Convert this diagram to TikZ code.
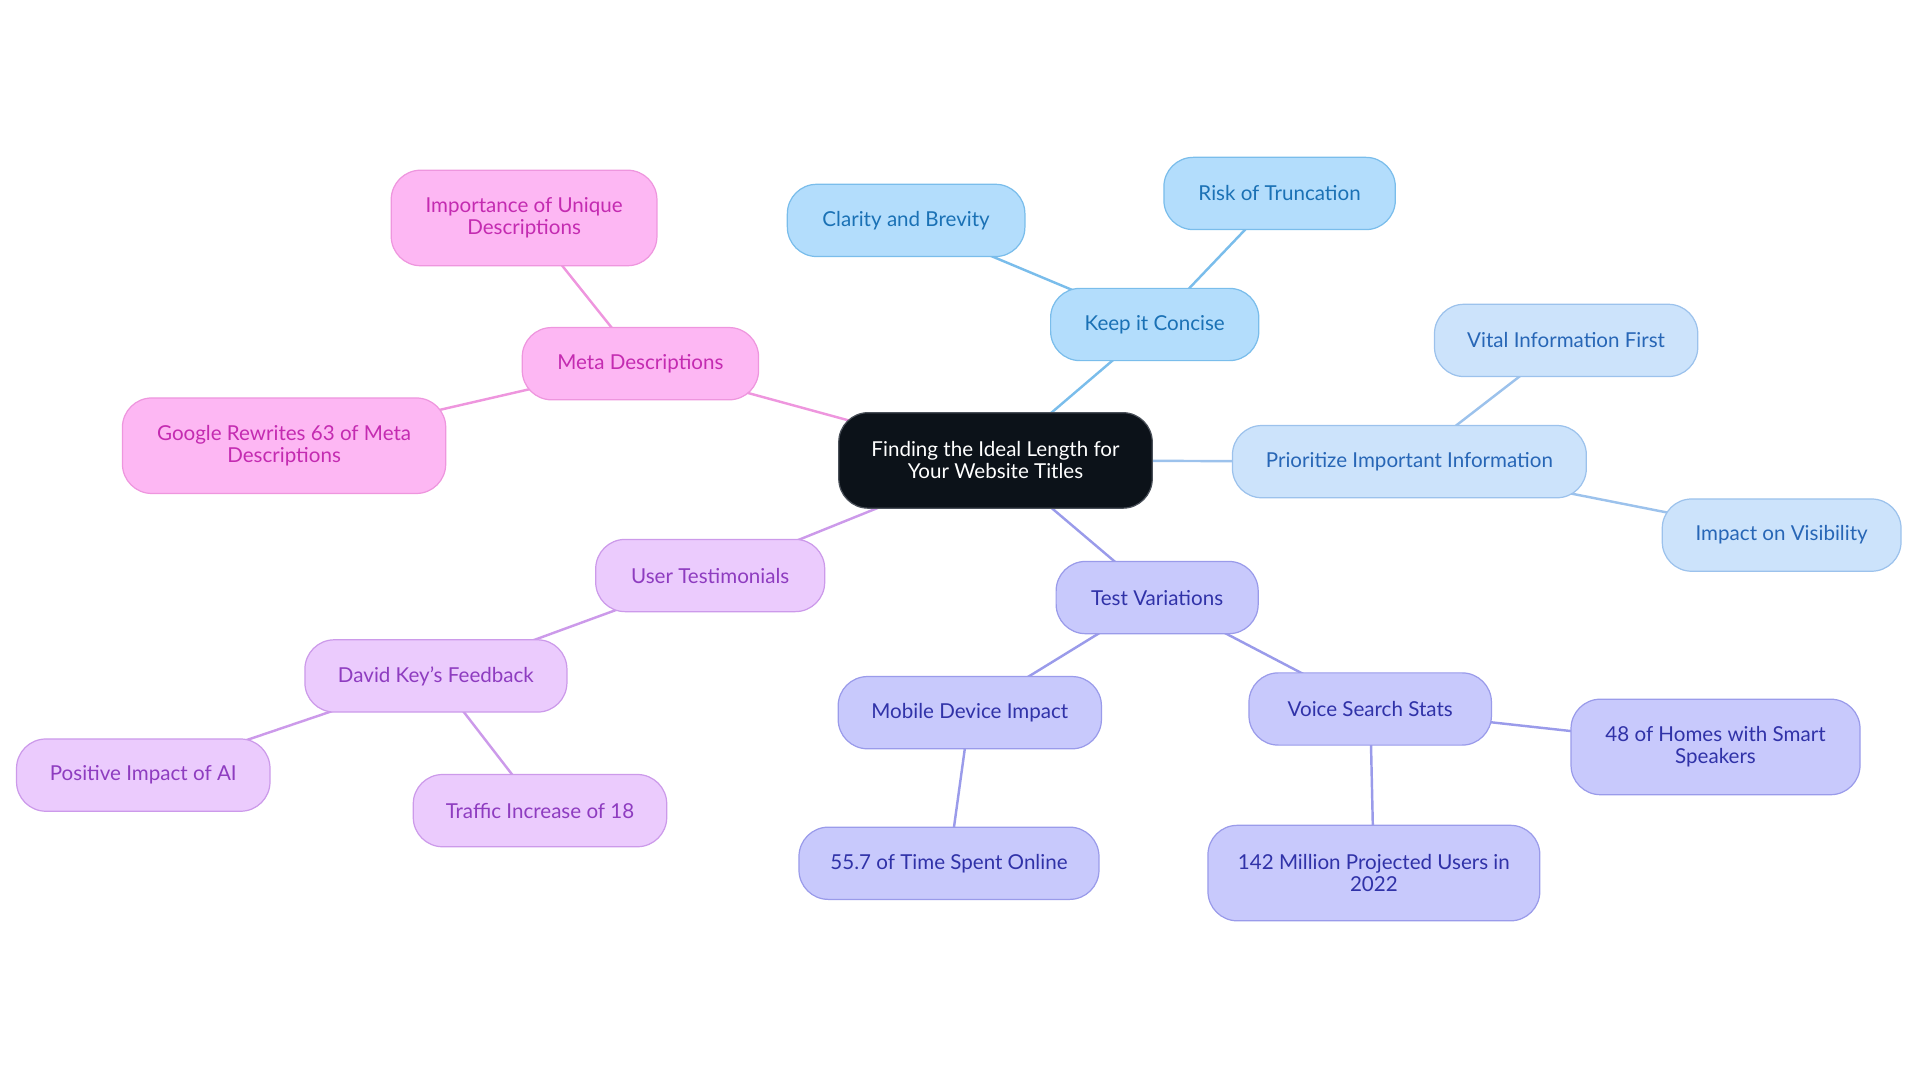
\documentclass[tikz,border=0pt]{standalone}
\usepackage{fontspec}
\setmainfont{Lato}
\usetikzlibrary{backgrounds}

\definecolor{rootfill}{HTML}{0C1219}
\definecolor{rootline}{HTML}{4A5059}
\definecolor{skyfill}{HTML}{B3DDFC}
\definecolor{skyline}{HTML}{7ABDEB}
\definecolor{skytext}{HTML}{1A71B5}
\definecolor{icefill}{HTML}{CCE3FB}
\definecolor{iceline}{HTML}{9CC2EC}
\definecolor{icetext}{HTML}{2766B6}
\definecolor{indfill}{HTML}{C8C9FC}
\definecolor{indline}{HTML}{9A9BEA}
\definecolor{indtext}{HTML}{3032A8}
\definecolor{vioffill}{HTML}{EBCBFD}
\definecolor{vioine}{HTML}{CC9AEA}
\definecolor{viotext}{HTML}{8E3CC0}
\definecolor{pinkfill}{HTML}{FDB7F3}
\definecolor{pinkline}{HTML}{EE96DE}
\definecolor{pinktext}{HTML}{C42BB1}

\begin{document}
\begin{tikzpicture}[x=1pt,y=-1pt,
  box/.style={rectangle, rounded corners=24pt, draw, line width=1pt,
    minimum height=59pt, inner xsep=10pt, align=center,
    font=\fontsize{16.8}{18}\selectfont},
  tall/.style={minimum height=78pt},
  link/.style={line width=2pt}]

\useasboundingbox (0,0) rectangle (1568,884);

% root of the map
\node[box, fill=rootfill, draw=rootline, text=white, minimum width=256pt, tall]
  (root) at (813,376) {Finding the Ideal Length for\\Your Website Titles};

% keep it concise branch
\node[box, fill=skyfill, draw=skyline, text=skytext, minimum width=170pt] (concise) at (943,265) {Keep it Concise};
\foreach \n/\x/\y/\w/\t in {clarity/740/180/194/{Clarity and Brevity},
                            trunc/1045/158/189/{Risk of Truncation}} {
    \node[box, fill=skyfill, draw=skyline, text=skytext, minimum width=\w pt] (\n) at (\x,\y) {\t};
}

% prioritize branch
\node[box, fill=icefill, draw=iceline, text=icetext, minimum width=289pt] (prio) at (1151,377) {Prioritize Important Information};
\foreach \n/\x/\y/\w/\t in {vital/1279/278/215/{Vital Information First},
                            visib/1455/437/195/{Impact on Visibility}} {
    \node[box, fill=icefill, draw=iceline, text=icetext, minimum width=\w pt] (\n) at (\x,\y) {\t};
}

% test variations branch
\foreach \n/\x/\y/\w/\t in {test/945/488/165/{Test Variations},
                            mobile/792/582/215/{Mobile Device Impact},
                            online/775/705/245/{55.7 of Time Spent Online},
                            voice/1119/579/198/{Voice Search Stats}} {
    \node[box, fill=indfill, draw=indline, text=indtext, minimum width=\w pt] (\n) at (\x,\y) {\t};
}
\node[box, tall, fill=indfill, draw=indline, text=indtext, minimum width=236pt] (homes) at (1401,610) {48 of Homes with Smart\\Speakers};
\node[box, tall, fill=indfill, draw=indline, text=indtext, minimum width=271pt] (users) at (1122,713) {142 Million Projected Users in\\2022};

% testimonials branch
\foreach \n/\x/\y/\w/\t in {testim/580/470/187/{User Testimonials},
                            david/356/552/214/{David Key’s Feedback},
                            posai/117/633/207/{Positive Impact of AI},
                            traffic/441/662/207/{Traffic Increase of 18}} {
    \node[box, fill=vioffill, draw=vioine, text=viotext, minimum width=\w pt] (\n) at (\x,\y) {\t};
}

% meta descriptions branch
\node[box, fill=pinkfill, draw=pinkline, text=pinktext, minimum width=193pt] (meta) at (523,297) {Meta Descriptions};
\node[box, tall, fill=pinkfill, draw=pinkline, text=pinktext, minimum width=217pt] (unique) at (428,178) {Importance of Unique\\Descriptions};
\node[box, tall, fill=pinkfill, draw=pinkline, text=pinktext, minimum width=264pt] (google) at (232,364) {Google Rewrites 63 of Meta\\Descriptions};

% connectors behind the boxes, centre to centre
\begin{scope}[on background layer]
\foreach \a/\b in {root/concise, concise/clarity, concise/trunc}
    \draw[link, skyline] (\a.center) -- (\b.center);
\foreach \a/\b in {root/prio, prio/vital, prio/visib}
    \draw[link, iceline] (\a.center) -- (\b.center);
\foreach \a/\b in {root/test, test/mobile, mobile/online, test/voice, voice/homes, voice/users}
    \draw[link, indline] (\a.center) -- (\b.center);
\foreach \a/\b in {root/testim, testim/david, david/posai, david/traffic}
    \draw[link, vioine] (\a.center) -- (\b.center);
\foreach \a/\b in {root/meta, meta/unique, meta/google}
    \draw[link, pinkline] (\a.center) -- (\b.center);
\end{scope}
\end{tikzpicture}
\end{document}
